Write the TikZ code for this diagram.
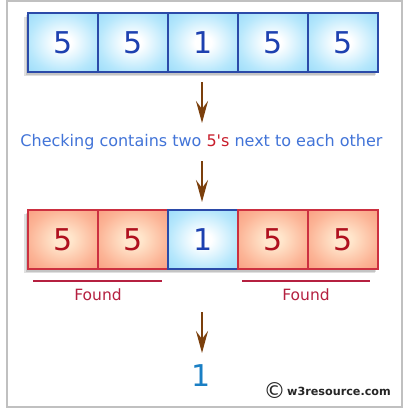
\documentclass[tikz,border=0pt]{standalone}
\usepackage{fontspec}
\setmainfont{DejaVu Sans}[Ligatures=TeXOff]
\usetikzlibrary{arrows.meta}
\definecolor{bborder}{HTML}{2B4AA8}
\definecolor{bmid}{HTML}{B6E7FC}
\definecolor{bout}{HTML}{7ACFF6}
\definecolor{bnum}{HTML}{1D40B0}
\definecolor{rborder}{HTML}{CC3040}
\definecolor{rin}{HTML}{FFE6CC}
\definecolor{rmid}{HTML}{FCB496}
\definecolor{rout}{HTML}{F58468}
\definecolor{rnum}{HTML}{B0101E}
\definecolor{foundc}{HTML}{B52040}
\definecolor{txtblue}{HTML}{4274D8}
\definecolor{txtred}{HTML}{C81E2C}
\definecolor{arrowc}{HTML}{7B3F0C}
\definecolor{onec}{HTML}{1A7FC4}
\definecolor{framec}{HTML}{C0C0C0}
\pgfdeclareradialshading{bshade}{\pgfpoint{0bp}{0bp}}{color(0bp)=(white); color(6bp)=(white); color(25bp)=(bmid); color(50bp)=(bout); color(72bp)=(bout)}
\pgfdeclareradialshading{rshade}{\pgfpoint{0bp}{0bp}}{color(0bp)=(rin); color(6bp)=(rin); color(25bp)=(rmid); color(50bp)=(rout); color(72bp)=(rout)}
\tikzset{
  cellbox/.style={draw, line width=1.2pt, minimum width=70pt, minimum height=59pt, inner sep=0pt, font=\fontsize{30}{36}\selectfont},
  bluecell/.style={cellbox, draw=bborder, shading=bshade, text=bnum},
  redcell/.style={cellbox, draw=rborder, shading=rshade, text=rnum},
  arr/.style={draw=arrowc, line width=2.2pt, -{Stealth[length=22pt,width=12pt,inset=8pt]}},
  foundline/.style={draw=foundc, line width=2pt},
  foundtxt/.style={text=foundc, font=\fontsize{15.5}{18}\selectfont, inner sep=0pt},
  rowshadow/.style={fill=black, opacity=0.12},
}
\begin{document}
\begin{tikzpicture}[x=1pt,y=-1pt]
\useasboundingbox (0,0) rectangle (408,412);
\fill[white] (0,0) rectangle (408,412);
\draw[framec, line width=1.5pt] (7,1) rectangle (402,407);
% shadows
\fill[rowshadow] (24,17) rectangle (375,76);
\fill[rowshadow] (25.5,15.5) rectangle (376,74.5);
\fill[rowshadow] (24,214) rectangle (375,273);
\fill[rowshadow] (25.5,212.5) rectangle (376,271.5);
% row 1
\node[bluecell] (t1) at (63,42.5) {5};
\node[bluecell] (t2) at (133,42.5) {5};
\node[bluecell] (t3) at (203,42.5) {1};
\node[bluecell] (t4) at (273,42.5) {5};
\node[bluecell] (t5) at (343,42.5) {5};
% text
\node[inner sep=0pt, font=\fontsize{16}{19}\selectfont, text=txtblue] (chk) at (201.5,142)
  {Checking contains two \textcolor{txtred}{5's} next to each other};
% row 2
\node[redcell] (b1) at (63,239.5) {5};
\node[redcell] (b2) at (133,239.5) {5};
\node[bluecell] (b3) at (203,239.5) {1};
\node[redcell] (b4) at (273,239.5) {5};
\node[redcell] (b5) at (343,239.5) {5};
% found
\coordinate (f1a) at (33,281);
\coordinate (f1b) at (162,281);
\coordinate (f2a) at (242,281);
\coordinate (f2b) at (370,281);
\draw[foundline] (f1a) -- (f1b);
\draw[foundline] (f2a) -- (f2b);
\node[foundtxt] (fd1) at (98,295) {Found};
\node[foundtxt] (fd2) at (306,295) {Found};
% result
\node[inner sep=0pt, text=onec, font=\fontsize{30}{36}\selectfont] (res) at (201,376) {1};
\node[inner sep=0pt, text=black!85, anchor=east] (copy) at (391,391)
  {\raisebox{-3pt}{\fontsize{22}{22}\selectfont ©}\,{\fontsize{11.2}{14}\selectfont\bfseries w3resource.com}};
% arrows
\coordinate (a1s) at (202,82);
\coordinate (a1e) at (202,123);
\coordinate (a2s) at (202,161);
\coordinate (a2e) at (202,202);
\coordinate (a3s) at (202,312);
\coordinate (a3e) at (202,353);
\draw[arr] (a1s) -- (a1e);
\draw[arr] (a2s) -- (a2e);
\draw[arr] (a3s) -- (a3e);
\end{tikzpicture}
\end{document}
